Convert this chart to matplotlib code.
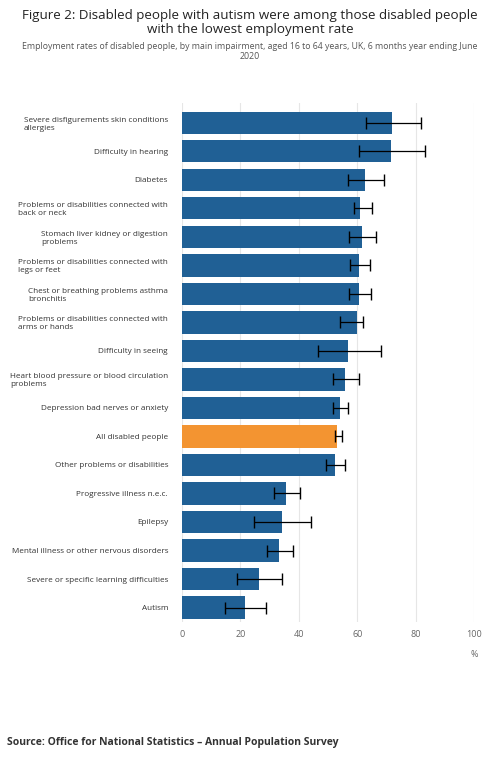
import matplotlib
matplotlib.use("Agg")
import matplotlib.pyplot as plt
import numpy as np

plt.rcParams['font.family'] = ['Open Sans', 'DejaVu Sans']

categories = ["Severe disfigurements skin conditions\nallergies", "Difficulty in hearing", "Diabetes",
              "Problems or disabilities connected with\nback or neck", "Stomach liver kidney or digestion\nproblems",
              "Problems or disabilities connected with\nlegs or feet", "Chest or breathing problems asthma\nbronchitis",
              "Problems or disabilities connected with\narms or hands", "Difficulty in seeing",
              "Heart blood pressure or blood circulation\nproblems", "Depression bad nerves or anxiety",
              "All disabled people", "Other problems or disabilities", "Progressive illness n.e.c.",
              "Epilepsy", "Mental illness or other nervous disorders",
              "Severe or specific learning difficulties", "Autism"]
values = [71.9, 71.6, 62.7, 61.0, 61.6, 60.6, 60.6, 60.0, 56.8, 55.8, 54.1, 53.1, 52.4, 35.6, 34.2, 33.2, 26.4, 21.6]
lower = [63.0, 60.6, 56.8, 58.9, 57.2, 57.5, 57.2, 54.0, 46.6, 51.7, 51.7, 52.4, 49.3, 31.5, 24.7, 29.1, 18.8, 14.7]
upper = [81.8, 83.2, 69.2, 65.0, 66.4, 64.4, 64.7, 62.0, 68.2, 60.6, 56.8, 54.8, 55.8, 40.4, 44.2, 38.0, 34.2, 28.8]
highlight = "All disabled people"

fig = plt.figure(figsize=(5, 7.62), dpi=100)
ax = fig.add_axes([0.364, 0.184, 0.584, 0.681])
y = np.arange(len(categories))
colors = ['#f39431' if c == highlight else '#206095' for c in categories]
ax.barh(y, values, height=0.78, color=colors)
v = np.array(values)
ax.errorbar(v, y, xerr=[v - np.array(lower), np.array(upper) - v], fmt='none', ecolor='black', elinewidth=0.9, capsize=4)
ax.set_yticks(y)
ax.set_yticklabels(categories, fontsize=5.9, color='#333333')
for t in ax.get_yticklabels():
    t.set_multialignment('left')
ax.invert_yaxis()
ax.set_ylim(len(categories) - 0.5, -0.7)
ax.set_xlim(0, 100)
ax.set_xticks([0, 20, 40, 60, 80, 100])
ax.tick_params(axis='x', labelsize=6.5, colors='#666666', length=0, pad=6)
ax.tick_params(axis='y', length=0, pad=10)
ax.grid(axis='x', color='#e6e6e6', linewidth=0.8)
ax.set_axisbelow(True)
for s in ax.spines.values():
    s.set_visible(False)
ax.text(1.0, -0.055, '%', transform=ax.transAxes, ha='center', va='top', fontsize=6.5, color='#666666')

fig.text(0.5, 0.988, "Figure 2: Disabled people with autism were among those disabled people\nwith the lowest employment rate",
         ha='center', va='top', fontsize=9.6, color='#222222', linespacing=1.05)
fig.text(0.5, 0.945, "Employment rates of disabled people, by main impairment, aged 16 to 64 years, UK, 6 months year ending June\n2020",
         ha='center', va='top', fontsize=6.3, color='#555555')
fig.text(0.014, 0.025, "Source: Office for National Statistics \u2013 Annual Population Survey",
         ha='left', va='center', fontsize=7.5, fontweight='bold', color='#333333')
fig.savefig('out.png', dpi=100)
